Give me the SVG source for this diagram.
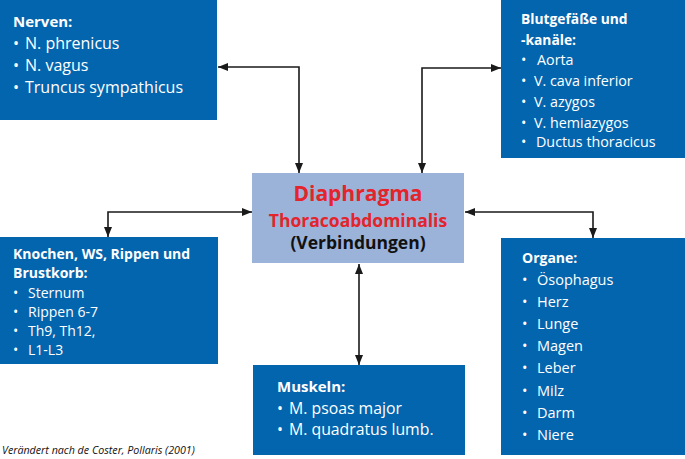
<svg xmlns="http://www.w3.org/2000/svg" width="685" height="459" viewBox="0 0 685 459">
<defs>
<style>
.box{fill:#0365ae}
.ctr{fill:#9bb2d9}
text{font-family:"Open Sans","Noto Sans","Liberation Sans",sans-serif}
.h{fill:#fff;font-weight:bold}
.t{fill:#fff}
.c{stroke:#1a1a1a;stroke-width:1.6;fill:none;marker-start:url(#a);marker-end:url(#a)}
</style>
<marker id="a" viewBox="0 0 10 8" refX="10" refY="4" markerWidth="10" markerHeight="8" markerUnits="userSpaceOnUse" orient="auto-start-reverse">
<path d="M0,0 L10,4 L0,8 Z" fill="#1a1a1a"/>
</marker>
</defs>
<rect width="685" height="459" fill="#fff"/>
<g id="connectors">
<path class="c" d="M218,67 H299 V173"/>
<path class="c" d="M501,68 H422 V173"/>
<path class="c" d="M252,212 H108 V237"/>
<path class="c" d="M465,212 H593 V238"/>
<path class="c" d="M359,264 V365"/>
</g>
<g id="nerven" font-size="16">
<rect class="box" x="0" y="0" width="217" height="120"/>
<text class="h" x="13" y="27" font-size="15">Nerven:</text>
<text class="t" x="13" y="49">•</text><text class="t" x="25" y="49">N. phrenicus</text>
<text class="t" x="13" y="71">•</text><text class="t" x="25" y="71">N. vagus</text>
<text class="t" x="13" y="93">•</text><text class="t" x="25" y="93">Truncus sympathicus</text>
</g>
<g id="blut" font-size="14.3">
<rect class="box" x="501" y="0" width="184" height="158"/>
<text class="h" x="521" y="24" font-size="13.8">Blutgefäße und</text>
<text class="h" x="521" y="45" font-size="13.8">-kanäle:</text>
<text class="t" x="521" y="65">•</text><text class="t" x="537" y="65">Aorta</text>
<text class="t" x="521" y="86">•</text><text class="t" x="534" y="86">V. cava inferior</text>
<text class="t" x="521" y="107">•</text><text class="t" x="534" y="107">V. azygos</text>
<text class="t" x="521" y="128">•</text><text class="t" x="534" y="128">V. hemiazygos</text>
<text class="t" x="521" y="147">•</text><text class="t" x="536" y="147">Ductus thoracicus</text>
</g>
<g id="zentrum">
<rect class="ctr" x="252" y="173" width="212" height="90"/>
<text x="358" y="201" text-anchor="middle" fill="#e3242b" font-size="21" font-weight="bold">Diaphragma</text>
<text x="358" y="227" text-anchor="middle" fill="#e3242b" font-size="17.5" font-weight="bold">Thoracoabdominalis</text>
<text x="358" y="249" text-anchor="middle" fill="#111" font-size="17.5" font-weight="bold">(Verbindungen)</text>
</g>
<g id="knochen" font-size="14">
<rect class="box" x="0" y="237" width="218" height="127"/>
<text class="h" x="13" y="259">Knochen, WS, Rippen und</text>
<text class="h" x="13" y="278">Brustkorb:</text>
<text class="t" x="13" y="298">•</text><text class="t" x="28" y="298">Sternum</text>
<text class="t" x="13" y="317">•</text><text class="t" x="28" y="317">Rippen 6-7</text>
<text class="t" x="13" y="336">•</text><text class="t" x="28" y="336">Th9, Th12,</text>
<text class="t" x="13" y="355">•</text><text class="t" x="28" y="355">L1-L3</text>
</g>
<g id="organe" font-size="14.5">
<rect class="box" x="501" y="238" width="184" height="217"/>
<text class="h" x="522" y="263" font-size="14">Organe:</text>
<text class="t" x="522" y="285">•</text><text class="t" x="537" y="285">Ösophagus</text>
<text class="t" x="522" y="307">•</text><text class="t" x="537" y="307">Herz</text>
<text class="t" x="522" y="329">•</text><text class="t" x="537" y="329">Lunge</text>
<text class="t" x="522" y="351">•</text><text class="t" x="537" y="351">Magen</text>
<text class="t" x="522" y="373">•</text><text class="t" x="537" y="373">Leber</text>
<text class="t" x="522" y="396">•</text><text class="t" x="537" y="396">Milz</text>
<text class="t" x="522" y="418">•</text><text class="t" x="537" y="418">Darm</text>
<text class="t" x="522" y="440">•</text><text class="t" x="537" y="440">Niere</text>
</g>
<g id="muskeln" font-size="15.8">
<rect class="box" x="253" y="365" width="212" height="90"/>
<text class="h" x="277" y="392" font-size="15">Muskeln:</text>
<text class="t" x="277" y="414">•</text><text class="t" x="289" y="414">M. psoas major</text>
<text class="t" x="277" y="435">•</text><text class="t" x="289" y="435">M. quadratus lumb.</text>
</g>
<text x="2" y="454" font-size="10.7" font-style="italic" fill="#111">Verändert nach de Coster, Pollaris (2001)</text>
</svg>
